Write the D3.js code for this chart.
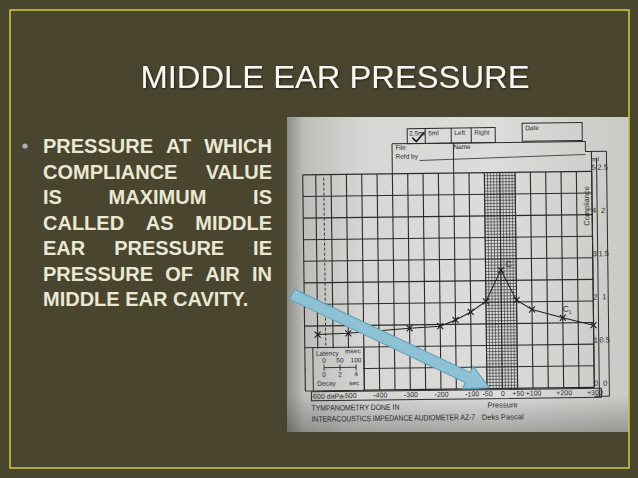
<!DOCTYPE html>
<head>
    <meta charset="utf-8">
    <script src="https://d3js.org/d3.v7.min.js"></script>
    <style>
        *{
            margin:0;
            padding:0;
        }
        body{
            background: #4a452f;
        }
        svg{
            display: block;
        }
        .paper text{
            font-family: 'Liberation Sans Narrow', 'Liberation Sans', Arial, sans-serif;
            fill: #2a2a2a;
        }
    </style>
</head>

<body>
<svg id="viz"></svg>

<script>

    //tympanogram readings (pressure in daPa, compliance in ml)
    let pressure   = [-600, -500, -300, -200, -150, -100, -50, 0, 50, 100, 200, 300];
    let compliance = [0.65, 0.66, 0.71, 0.73, 0.80, 0.89, 1.01, 1.37, 1.02, 0.91, 0.81, 0.72];

    //axis labels printed on the form
    let pressureTicks  = [-500, -400, -300, -200, -100, -50, 0, 50, 100, 200, 300];
    let pressureLabels = ["-500", "-400", "-300", "-200", "-100", "-50", "0", "+50", "+100", "+200", "+300"];
    let mlTicks        = [2.5, 2, 1.5, 1, 0.5, 0];
    let mmhoLabels     = ["5", "4", "3", "2", "1", "0"];
    let mlLabels       = ["2.5", "2", "1.5", "1", "0.5", "0"];

    //slide text
    let title = "MIDDLE EAR PRESSURE";
    let bulletLines = [
        ["PRESSURE", "AT", "WHICH"],
        ["COMPLIANCE", "VALUE"],
        ["IS", "MAXIMUM", "IS"],
        ["CALLED", "AS", "MIDDLE"],
        ["EAR", "PRESSURE", "IE"],
        ["PRESSURE", "OF", "AIR", "IN"],
        ["MIDDLE", "EAR", "CAVITY."]
    ];


    //svg
    let svg = d3.select("svg")
        .attr("width", 638)
        .attr("height", 478);

    let defs = svg.append("defs");

    //paper gradient
    let grad = defs.append("linearGradient")
        .attr("id", "paper")
        .attr("gradientUnits", "userSpaceOnUse")
        .attr("x1", 287).attr("x2", 629)
        .attr("y1", 0).attr("y2", 0);
    [["0%", "#8e8e89"], ["5%", "#bdbdb9"], ["22%", "#d6d6d4"], ["60%", "#dcdcda"], ["100%", "#c9c9c5"]]
        .forEach(s => grad.append("stop").attr("offset", s[0]).attr("stop-color", s[1]));

    let shade = defs.append("linearGradient")
        .attr("id", "shade")
        .attr("x1", 0).attr("x2", 0).attr("y1", 0).attr("y2", 1);
    shade.append("stop").attr("offset", "0%").attr("stop-color", "#000").attr("stop-opacity", 0);
    shade.append("stop").attr("offset", "100%").attr("stop-color", "#000").attr("stop-opacity", 0.25);

    let glow = defs.append("filter").attr("id", "glow");
    glow.append("feDropShadow")
        .attr("dx", 0.8).attr("dy", 0.8)
        .attr("stdDeviation", 0.8)
        .attr("flood-color", "#000")
        .attr("flood-opacity", 0.6);


    //slide background
    svg.append("rect")
        .attr("width", 638)
        .attr("height", 478)
        .attr("fill", "#4a452f");


    //title
    svg.append("text")
        .text(title)
        .attr("x", 335)
        .attr("y", 88)
        .attr("text-anchor", "middle")
        .attr("textLength", 389)
        .attr("lengthAdjust", "spacingAndGlyphs")
        .attr("font-family", "'Liberation Sans', Arial, sans-serif")
        .attr("font-size", 32)
        .attr("fill", "#f6f6f2")
        .attr("filter", "url(#glow)");


    //bullet
    svg.append("circle")
        .attr("cx", 25)
        .attr("cy", 146)
        .attr("r", 2.6)
        .attr("fill", "#a9b3b4");


    //justified bullet text
    let left = 43, right = 272;
    bulletLines.forEach((words, li) => {
        let y = 153 + li * 25.5;
        let nodes = words.map(w => svg.append("text")
            .text(w)
            .attr("y", y)
            .attr("font-family", "'Liberation Sans', Arial, sans-serif")
            .attr("font-weight", "bold")
            .attr("font-size", 20)
            .attr("fill", "#e9e8d2"));
        let widths = nodes.map(n => n.node().getComputedTextLength());
        let total = d3.sum(widths);
        let last = li == bulletLines.length - 1;
        let gap = last ? 5.6 : (right - left - total) / (words.length - 1);
        let x = left;
        nodes.forEach((n, i) => {
            n.attr("x", x);
            x += widths[i] + gap;
        });
    });


    //photo of the tympanogram form
    svg.append("rect")
        .attr("x", 287)
        .attr("y", 117)
        .attr("width", 342)
        .attr("height", 315)
        .attr("fill", "url(#paper)");
    svg.append("rect")
        .attr("x", 287)
        .attr("y", 395)
        .attr("width", 342)
        .attr("height", 37)
        .attr("fill", "url(#shade)");

    let paper = svg.append("g")
        .attr("class", "paper")
        .attr("transform", "rotate(-0.7, 460, 280)");


    //scales
    let x = d3.scaleLinear().domain([-600, 300]).range([317, 593]);
    let y = d3.scaleLinear().domain([0, 2.5]).range([389, 173]);

    let ink = "#2b2b2b";
    let line = (x1, y1, x2, y2, w) => paper.append("line")
        .attr("x1", x1).attr("y1", y1)
        .attr("x2", x2).attr("y2", y2)
        .attr("stroke", ink)
        .attr("stroke-width", w || 1);


    //fine hatch around 0 daPa
    let hatch = paper.append("g").attr("stroke", "#363636").attr("stroke-width", 0.65);
    hatch.selectAll("line.v")
        .data(d3.range(-50, 51, 10))
        .enter().append("line")
        .attr("x1", d => x(d)).attr("x2", d => x(d))
        .attr("y1", y(2.5)).attr("y2", y(0));
    hatch.selectAll("line.h")
        .data(d3.range(0, 70).map(i => i * 0.25 / 7))
        .enter().append("line")
        .attr("x1", x(-50)).attr("x2", x(50))
        .attr("y1", d => y(d)).attr("y2", d => y(d));


    //main grid
    paper.append("g").selectAll("line")
        .data(d3.range(-600, 301, 50))
        .enter().append("line")
        .attr("x1", d => x(d)).attr("x2", d => x(d))
        .attr("y1", y(2.5)).attr("y2", y(0))
        .attr("stroke", ink)
        .attr("stroke-width", 1.1);

    paper.append("g").selectAll("line")
        .data(d3.range(0, 11).map(i => i * 0.25))
        .enter().append("line")
        .attr("x1", 304).attr("x2", x(300))
        .attr("y1", d => y(d)).attr("y2", d => y(d))
        .attr("stroke", ink)
        .attr("stroke-width", 1.1);

    //left edge of the grid
    line(304, y(2.5), 304, y(0), 1.1);

    //dashed marker line
    line(325, y(2.5) + 3, 325, y(0.5), 0.9).attr("stroke-dasharray", "3,2");


    //latency / decay box (clears the grid under it)
    paper.append("rect")
        .attr("x", 305).attr("y", y(0.5) + 1)
        .attr("width", x(-450) - 306)
        .attr("height", y(0) - y(0.5) - 1.5)
        .attr("fill", "url(#paper)");
    line(312, y(0.5), 312, y(0), 1);
    line(x(-450), y(0.5), x(-450), y(0), 1.1);

    let small = (t, tx, ty, size, anchor) => paper.append("text")
        .text(t)
        .attr("x", tx)
        .attr("y", ty)
        .attr("font-size", size || 6.5)
        .attr("text-anchor", anchor || "start");

    small("Latency", 315, 354);
    small("msec", 352, 352, 6.5, "middle");
    small("0", 323, 361, 6.5, "middle");
    small("50", 339, 361, 6.5, "middle");
    small("100", 355, 361, 6.5, "middle");
    line(323, 366, 355, 366, 0.9);
    [323, 339, 355].forEach(t => line(t, 363, t, 369, 0.9));
    small("0", 323, 375, 6.5, "middle");
    small("2", 339, 375, 6.5, "middle");
    small("4", 355, 375, 6.5, "middle");
    small("Decay", 316, 384);
    small("sec", 353, 384, 6.5, "middle");


    //header boxes
    paper.append("rect")
        .attr("x", 409).attr("y", 128)
        .attr("width", 88).attr("height", 15)
        .attr("fill", "none").attr("stroke", ink);
    [427, 453, 473].forEach(d => line(d, 128, d, 143, 1));
    small("2.5ml", 411, 135, 6.5);
    small("5ml", 430, 135, 6.5);
    small("Left", 456, 135, 6.5);
    small("Right", 476, 135, 6.5);
    paper.append("path")
        .attr("d", "M414,137 L418,141 L426,132")
        .attr("fill", "none")
        .attr("stroke", "#1a1a1a")
        .attr("stroke-width", 1.6);

    paper.append("rect")
        .attr("x", 524).attr("y", 124)
        .attr("width", 60).attr("height", 18)
        .attr("fill", "none").attr("stroke", ink);
    small("Date", 527, 131, 6.5);

    line(x(-350), 143, x(-350), y(2.5), 1);
    line(x(-350), 143, 587, 143, 1);
    line(x(-150), 143, x(-150), y(2.5), 1);
    line(587, 143, 587, 153, 1);
    small("File", 397, 149, 6.5);
    small("Refd by", 397, 158, 6.5);
    line(421, 160, 587, 156, 0.8);
    small("Name", 455, 149, 6.5);


    //compliance scale on the right
    line(587, 153, 608, 153, 1);
    line(x(300), 153, x(300), y(0), 1.1);
    line(598, 160, 598, 398, 1);
    line(608, 153, 608, 398, 1);
    line(x(300), 398, 608, 398, 1);
    small("ml", 597, 163, 6.5, "middle");
    paper.append("text")
        .text("Compliance")
        .attr("transform", "translate(590," + y(2.1) + ") rotate(-90)")
        .attr("text-anchor", "middle")
        .attr("font-size", 7.5);
    paper.append("g").selectAll("text")
        .data(mlTicks)
        .enter().append("text")
        .text((d, i) => mmhoLabels[i])
        .attr("x", 595)
        .attr("y", d => y(d) - 1.5)
        .attr("text-anchor", "middle")
        .attr("font-size", 7.5);
    paper.append("g").selectAll("text")
        .data(mlTicks)
        .enter().append("text")
        .text((d, i) => mlLabels[i])
        .attr("x", 604)
        .attr("y", d => y(d) - 1.5)
        .attr("text-anchor", "middle")
        .attr("font-size", 7.5);


    //pressure axis strip
    paper.append("rect")
        .attr("x", 310).attr("y", 390)
        .attr("width", 290).attr("height", 9)
        .attr("fill", "none").attr("stroke", ink);

    let axis = paper.append("g")
        .attr("transform", "translate(0,390)")
        .call(d3.axisBottom(x)
            .tickValues(pressureTicks)
            .tickFormat((d, i) => pressureLabels[i])
            .tickSize(0)
            .tickPadding(1.5));
    axis.select(".domain").remove();
    axis.selectAll("text")
        .attr("font-size", 7)
        .attr("font-family", null)
        .attr("fill", ink);
    small("-600 daPa", x(-500) - 6, 397, 7, "end");


    //captions (condensed print)
    small("TYMPANOMETRY DONE IN", 0, 0, 8)
        .attr("transform", "translate(310,409) scale(0.86,1)");
    small("INTERACOUSTICS IMPEDANCE AUDIOMETER AZ-7", 0, 0, 8)
        .attr("transform", "translate(310,420) scale(0.84,1)");
    small("Pressure", x(0), 408, 7.5, "middle");
    small("Deks Pascal", x(0), 420, 7.5, "middle");


    //tympanogram curve
    let pts = pressure.map((p, i) => [x(p), y(compliance[i])]);
    paper.append("path")
        .attr("d", d3.line()(pts))
        .attr("fill", "none")
        .attr("stroke", "#222")
        .attr("stroke-width", 1);

    let marks = paper.append("g").selectAll("g")
        .data(pts)
        .enter().append("g")
        .attr("transform", d => "translate(" + d[0] + "," + d[1] + ")");
    marks.append("path")
        .attr("d", "M-3,-3 L3,3 M-3,3 L3,-3")
        .attr("stroke", "#1e1e1e")
        .attr("stroke-width", 1.1);

    small("C", x(0) + 5, y(1.37) - 3, 8.5);
    small("C", x(200), y(0.81) - 6, 8.5);
    small("1", x(200) + 6, y(0.81) - 4, 5);


    //pointer arrow
    let tail = [x(-682), y(1.12)];
    let tip  = [x(-42), y(0.01)];
    let ang = Math.atan2(tip[1] - tail[1], tip[0] - tail[0]);
    let len = Math.hypot(tip[0] - tail[0], tip[1] - tail[1]);
    let sw = 5.6, hw = 12.5, hl = 24;
    let arrowPts = [[0, -sw], [len - hl, -sw], [len - hl, -hw], [len, 0], [len - hl, hw], [len - hl, sw], [0, sw]];
    paper.append("polygon")
        .attr("points", arrowPts.map(p => p.join(",")).join(" "))
        .attr("transform", "translate(" + tail[0] + "," + tail[1] + ") rotate(" + (ang * 180 / Math.PI) + ")")
        .attr("fill", "#8dc2d5")
        .attr("stroke", "#5f9db5")
        .attr("stroke-width", 1);


    //yellow frame
    svg.append("rect")
        .attr("x", 10)
        .attr("y", 10)
        .attr("width", 619)
        .attr("height", 458)
        .attr("fill", "none")
        .attr("stroke", "#c9c33a")
        .attr("stroke-width", 1.6);

</script>
</body>
